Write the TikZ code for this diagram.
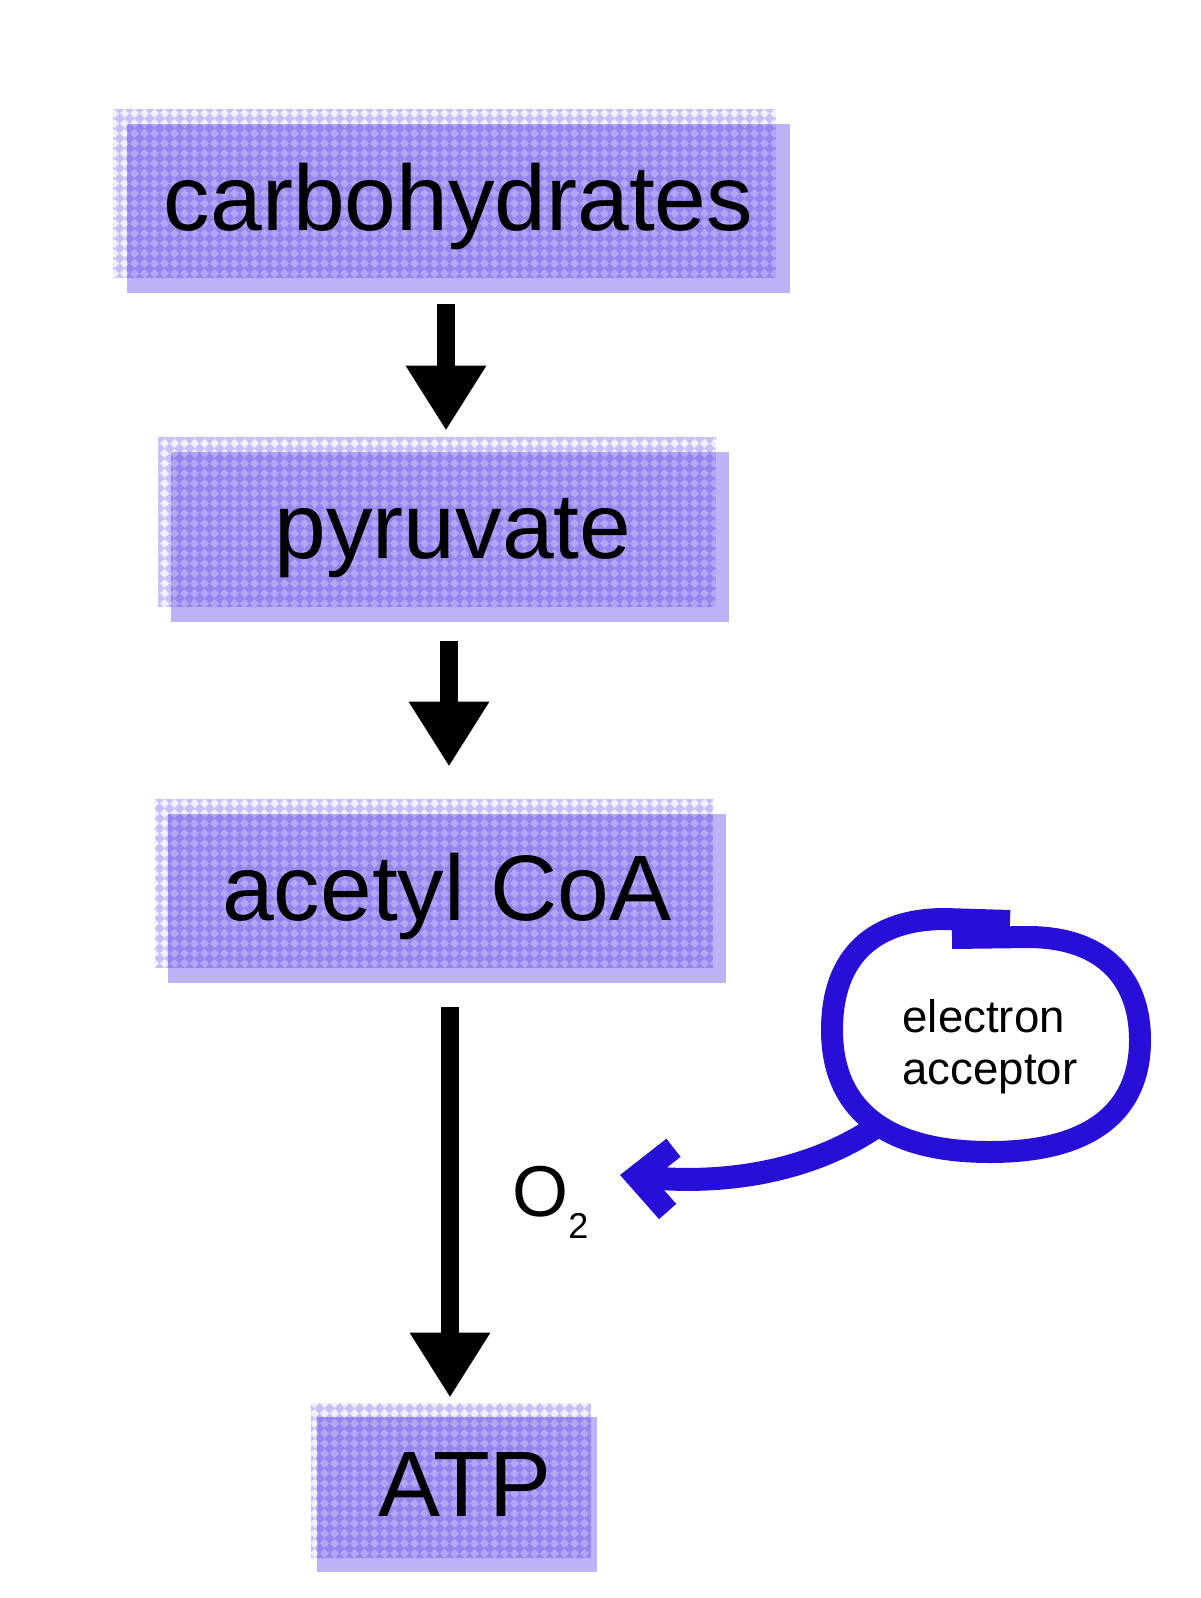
\documentclass[tikz,border=0pt]{standalone}
\usepackage{fontspec}
\setmainfont{Liberation Sans}
\usetikzlibrary{arrows.meta}
\usetikzlibrary{patterns}
\usetikzlibrary{shapes.geometric}

\definecolor{boxfill}{RGB}{188,178,245}
\definecolor{boxback}{RGB}{200,190,248}
\definecolor{boxcheck}{RGB}{242,239,254}
\definecolor{ink}{RGB}{40,15,215}

% small diamond checks for the back sheet of each box
\pgfdeclarepatternformonly{diamondchecks}{\pgfpointorigin}{\pgfqpoint{5pt}{5pt}}{\pgfqpoint{5pt}{5pt}}{%
	\pgfpathmoveto{\pgfqpoint{2.5pt}{0pt}}%
	\pgfpathlineto{\pgfqpoint{5pt}{2.5pt}}%
	\pgfpathlineto{\pgfqpoint{2.5pt}{5pt}}%
	\pgfpathlineto{\pgfqpoint{0pt}{2.5pt}}%
	\pgfpathclose
	\pgfusepath{fill}}

\begin{document}
\begin{tikzpicture}[x = 0.5pt, y = -0.5pt,
		box/.style = {rectangle, inner sep = 0pt, fill = boxfill, blend mode = multiply,
			font = \fontsize{46.5}{55}\selectfont, text height = 33pt, text depth = 11pt,
			preaction = {fill = boxback, transform canvas = {shift = {(#1)}}},
			preaction = {pattern = diamondchecks, pattern color = boxcheck, blend mode = normal, transform canvas = {shift = {(#1)}}}},
		box/.default = {-13, -15},
		flow/.style = {black, line width = 9pt, -{Triangle[width = 38pt, length = 32.5pt]}},
		loopline/.style = {draw = ink, line width = 11pt},
		tail/.style = {draw = ink, line width = 11.5pt, -{Straight Barb[length = 17pt, width = 32pt]}}]
	\useasboundingbox (0, 0) rectangle (1200, 1598);

	\node[box = {-14, -15}, minimum width = 331.5pt, minimum height = 84.5pt] (carb) at (458.5, 208.5) {carbohydrates\hspace{3pt}};
	\node[box, minimum width = 279pt, minimum height = 85pt] (pyr) at (450, 537) {\hspace{3pt}pyruvate};
	\node[box, minimum width = 279pt, minimum height = 84.5pt] (acetyl) at (447, 898.5) {acetyl CoA};
	\node[box = {-6, -14}, minimum width = 140pt, minimum height = 77.5pt] (atp) at (457, 1494.5) {\hspace{8pt}ATP};

	\draw[flow] ([xshift = -6.25pt, yshift = -5.5pt]carb.south) -- ([xshift = -6.25pt, yshift = 10.5pt]carb.south |- pyr.north);
	\draw[flow] ([xshift = -0.5pt, yshift = -9.5pt]pyr.south) -- ([xshift = -0.5pt, yshift = 23.5pt]pyr.south |- acetyl.north);
	\draw[flow] ([xshift = 1.5pt, yshift = -12pt]acetyl.south) -- ([xshift = 1.5pt, yshift = 9.5pt]acetyl.south |- atp.north);

	\node[anchor = base west, inner sep = 0pt, font = \fontsize{36}{40}\selectfont] (oxy) at (512, 1216) {O\raisebox{-11pt}{\fontsize{18}{20}\selectfont 2}};

	\node[ellipse, inner sep = 0pt, minimum width = 155pt, minimum height = 118pt, align = left,
		font = \fontsize{22.8}{26}\selectfont] (acceptor) at (990, 1047) {electron\\acceptor};
	% hand drawn ring round the acceptor
	\draw[loopline] (952, 938) -- (1030, 937) .. controls (1105, 938) and (1140, 980) .. (1140, 1040)
		.. controls (1140, 1112) and (1090, 1152) .. (990, 1152)
		.. controls (880, 1152) and (832, 1105) .. (832, 1030)
		.. controls (832, 955) and (875, 919) .. (945, 919) -- (1010, 921);
	\coordinate (tip) at (620, 1175);
	\draw[tail] (acceptor.215) .. controls (820, 1165) and (740, 1186) .. (tip);
\end{tikzpicture}
\end{document}
